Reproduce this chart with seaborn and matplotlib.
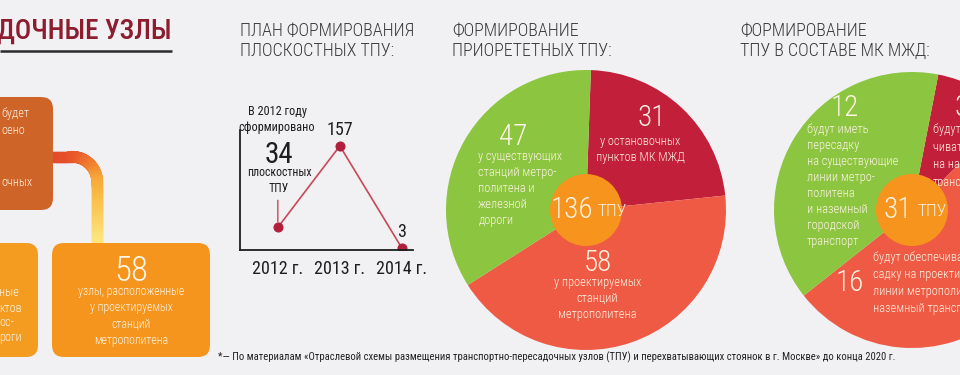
import numpy as np
import pandas as pd
import matplotlib
matplotlib.use("Agg")
import matplotlib.pyplot as plt
import seaborn as sns
from matplotlib.patches import FancyBboxPatch, Circle
from matplotlib.collections import LineCollection
from matplotlib.colors import LinearSegmentedColormap

# ---------------- data ----------------
page_title = "ДОЧНЫЕ УЗЛЫ"

years = ["2012 г.", "2013 г.", "2014 г."]
flat_tpu = [34, 157, 3]
line_title = "ПЛАН ФОРМИРОВАНИЯ\nПЛОСКОСТНЫХ ТПУ:"

prio_title = "ФОРМИРОВАНИЕ\nПРИОРЕТЕТНЫХ ТПУ:"
prio_values = [31, 58, 47]
prio_labels = ["у остановочных\nпунктов МК МЖД",
               "у проектируемых\nстанций\nметрополитена",
               "у существующих\nстанций метро-\nполитена и\nжелезной\nдороги"]
prio_total = 136

mk_title = "ФОРМИРОВАНИЕ\nТПУ В СОСТАВЕ МК МЖД:"
mk_values = [3, 16, 12]
mk_labels = ["будут обеспе-\nчивать пересадку\nна наземный\nтранспорт",
             "будут обеспечивать пере-\nсадку на проектируемые\nлинии метрополитена и\nназемный транспорт",
             "будут иметь\nпересадку\nна существующие\nлинии метро-\nполитена\nи наземный\nгородской\nтранспорт"]
mk_total = 31

box_value = 58
box_text = "узлы, расположенные\nу проектируемых\nстанций\nметрополитена"
box_top_text = ["будет", "оено", "", "", "очных"]
box_left_text = ["ные", "ктов", "ос-", "роги"]

footnote = ("*— По материалам «Отраслевой схемы размещения транспортно-пересадочных узлов (ТПУ) "
            "и перехватывающих стоянок в г. Москве» до конца 2020 г.")

# ---------------- style ----------------
BG = "#f1f1f3"
DARKRED = "#c21f3a"
REDOR = "#ef5a44"
GREEN = "#8cc53f"
CENTER = "#f7941d"
TXT = "#3a3a3a"
LIGHT = "#fdf3e3"

sns.set_theme(style="white")
plt.rcParams['font.family'] = ['Roboto Condensed', 'DejaVu Sans']
plt.rcParams['font.weight'] = 300

W, H = 960, 375
fig = plt.figure(figsize=(9.6, 3.75), dpi=100, facecolor=BG)

def fx(x):
    return x / W

def fy(y):
    return 1 - y / H

# background overlay axes in pixel coordinates
bg = fig.add_axes([0, 0, 1, 1], zorder=0)
bg.set_xlim(0, W)
bg.set_ylim(H, 0)
bg.axis("off")
bg.set_facecolor(BG)

# page title
bg.text(-3, 31, page_title, fontsize=19.5, color="#8c1c2e", fontweight=500,
        ha="left", va="center")
bg.plot([0, 172], [51, 51], color="#2a2a2a", lw=1.8, solid_capstyle="butt")

# connector with gradient
pts = [(50, 157), (72, 157)]
for t in np.linspace(0, np.pi / 2, 24):
    pts.append((72 + 25 * np.sin(t), 182 - 25 * np.cos(t)))
pts.append((97, 245))
pts = np.array(pts)
dense = []
for i in range(len(pts) - 1):
    n = max(2, int(np.hypot(*(pts[i + 1] - pts[i])) / 2))
    for s in np.linspace(0, 1, n, endpoint=False):
        dense.append(pts[i] * (1 - s) + pts[i + 1] * s)
dense.append(pts[-1])
dense = np.array(dense)
segs = np.stack([dense[:-1], dense[1:]], axis=1)
cmap = LinearSegmentedColormap.from_list("c", ["#e4472a", "#ea5a2b", "#f1852f", "#f9b940", "#fde47e"])
lc = LineCollection(segs, colors=cmap(np.linspace(0, 1, len(segs))), linewidths=8,
                    capstyle="projecting", zorder=1)
bg.add_collection(lc)

# boxes
def box(x0, y0, x1, y1, color):
    p = FancyBboxPatch((x0, y0), x1 - x0, y1 - y0,
                       boxstyle="round,pad=0,rounding_size=12",
                       fc=color, ec="none", zorder=2)
    bg.add_patch(p)

box(-30, 97, 53, 210, "#cf6428")
box(-30, 243, 38, 357, "#f49c1f")
box(52, 243, 210, 357, "#f6951d")

for i, t in enumerate(box_top_text):
    if t:
        bg.text(1, 113 + i * 17.3, t, fontsize=8.8, color=LIGHT, ha="left", va="center", zorder=3)
for i, t in enumerate(box_left_text):
    bg.text(-1, 293 + i * 15, t, fontsize=8.8, color=LIGHT, ha="left", va="center", zorder=3)
bg.text(131, 271, str(box_value), fontsize=25, color="#fff6e6", ha="center", va="center", zorder=3)
bg.text(131, 316, box_text, fontsize=8.6, color=LIGHT, ha="center", va="center",
        linespacing=1.32, zorder=3)

# section titles
for x, t in [(240, line_title), (452, prio_title), (740, mk_title)]:
    bg.text(x, 22, t, fontsize=13, color=TXT, ha="left", va="top", linespacing=1.12)

# footnote
bg.text(218, 357, footnote, fontsize=7.7, color="#222222", ha="left", va="center",
        fontweight=400)

# ---------------- line chart ----------------
axl = fig.add_axes([fx(240), fy(250), fx(173), 120 / H], zorder=3)
axl.patch.set_alpha(0)
df = pd.DataFrame({"pos": np.arange(len(years)), "value": flat_tpu})
sns.lineplot(data=df, x="pos", y="value", ax=axl, color="#c8475a", lw=1.2,
             marker="o", markersize=6.5, markerfacecolor="#b11f3a",
             markeredgecolor="#b11f3a")
axl.set_xlim(-0.61, 2.18)
axl.set_ylim(0, 181)
axl.set_xticks(df["pos"])
axl.set_xticklabels(years, fontsize=13, color="#1e1e1e", fontweight=400)
axl.set_yticks([])
axl.set_xlabel("")
axl.set_ylabel("")
axl.tick_params(axis="x", length=0, pad=7)
for s in ["top", "right"]:
    axl.spines[s].set_visible(False)
for s in ["left", "bottom"]:
    axl.spines[s].set_visible(True)
    axl.spines[s].set_color("#1e1e1e")
    axl.spines[s].set_linewidth(1.3)
for i in (1, 2):
    axl.annotate(str(flat_tpu[i]), (i, flat_tpu[i]), xytext=(0, 5),
                 textcoords="offset points", ha="center", va="bottom",
                 fontsize=13, color="#1e1e1e", fontweight=400)
axl.annotate("", xy=(0, flat_tpu[0]), xytext=(0, 75),
             arrowprops=dict(arrowstyle="-", color="#c8475a", lw=1, shrinkA=0, shrinkB=4))

bg.text(277, 119, "В 2012 году\nсформировано", fontsize=8.8, color="#1e1e1e",
        ha="center", va="center", linespacing=1.3, zorder=4, fontweight=400)
bg.text(279, 155, str(flat_tpu[0]), fontsize=21, color="#1e1e1e", ha="center",
        va="center", zorder=4, fontweight=400)
bg.text(279, 181, "плоскостных\nТПУ", fontsize=8.6, color="#1e1e1e", ha="center",
        va="center", linespacing=1.3, zorder=4, fontweight=400)

# ---------------- pies ----------------
def draw_pie(cx, cy, r, values, start):
    ax = fig.add_axes([fx(cx - r), fy(cy + r), 2 * r / W, 2 * r / H], zorder=3)
    ax.patch.set_alpha(0)
    ax.pie(values, colors=[DARKRED, REDOR, GREEN], startangle=start,
           counterclock=False, radius=1, wedgeprops=dict(linewidth=0))
    ax.set_xlim(-1, 1)
    ax.set_ylim(-1, 1)
    ax.axis("off")
    ax.add_patch(Circle((0, 0), 36 / r, fc=CENTER, ec="none", zorder=5))
    return ax

NUM = 21
LAB = 8.9

# priority pie
ap = draw_pie(586, 210, 140, prio_values, 88)
ap.text(0.47, 0.66, str(prio_values[0]), fontsize=NUM, color=LIGHT, ha="center", va="center")
ap.text(0.39, 0.43, prio_labels[0], fontsize=LAB, color=LIGHT, ha="center", va="center", linespacing=1.3)
ap.text(0.086, -0.38, str(prio_values[1]), fontsize=NUM, color=LIGHT, ha="center", va="center")
ap.text(0.08, -0.63, prio_labels[1], fontsize=LAB, color=LIGHT, ha="center", va="center", linespacing=1.3)
ap.text(-0.52, 0.52, str(prio_values[2]), fontsize=NUM, color=LIGHT, ha="center", va="center")
ap.text(-0.77, 0.157, prio_labels[2], fontsize=LAB, color=LIGHT, ha="left", va="center", linespacing=1.3)
ap.text(0.05, 0.0, str(prio_total), fontsize=NUM, color=LIGHT, ha="right", va="center", zorder=6)
ap.text(0.08, -0.01, "ТПУ", fontsize=12.5, color=LIGHT, ha="left", va="center", zorder=6)

# MK MZD pie
am = draw_pie(912, 210, 138, mk_values, 79)
am.text(0.36, 0.74, str(mk_values[0]), fontsize=NUM, color=LIGHT, ha="center", va="center")
am.text(0.152, 0.39, mk_labels[0], fontsize=LAB, color=LIGHT, ha="left", va="center", linespacing=1.45)
am.text(-0.45, -0.53, str(mk_values[1]), fontsize=NUM, color=LIGHT, ha="center", va="center")
am.text(-0.28, -0.53, mk_labels[1], fontsize=LAB, color=LIGHT, ha="left", va="center", linespacing=1.4)
am.text(-0.486, 0.74, str(mk_values[2]), fontsize=NUM, color=LIGHT, ha="center", va="center")
am.text(-0.76, 0.18, mk_labels[2], fontsize=LAB, color=LIGHT, ha="left", va="center", linespacing=1.3)
am.text(0.0, 0.0, str(mk_total), fontsize=NUM, color=LIGHT, ha="right", va="center", zorder=6)
am.text(0.04, -0.01, "ТПУ", fontsize=12.5, color=LIGHT, ha="left", va="center", zorder=6)

fig.savefig("out.png", dpi=100, facecolor=BG)
